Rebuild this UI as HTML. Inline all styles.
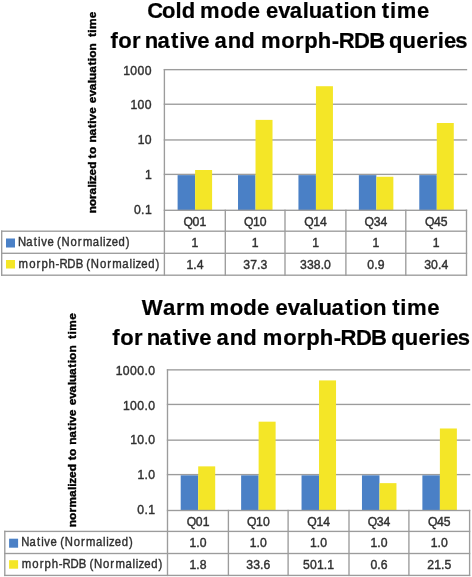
<!DOCTYPE html>
<html><head><meta charset="utf-8"><title>Cold and warm mode evaluation time</title>
<style>
html,body{margin:0;padding:0;background:#fff;}
body{width:472px;height:577px;overflow:hidden;}
svg{display:block;font-family:"Liberation Sans",Arial,sans-serif;}
</style></head><body>
<svg width="472" height="577" viewBox="0 0 472 577">
<rect width="472" height="577" fill="#fff"/>
<text transform="translate(0,17.50) scale(0.9997,1)" x="147.19 162.02 175.67 181.84 196.05 200.10 220.30 233.87 247.77 260.07 266.14 278.44 289.96 302.89 308.96 321.94 335.45 343.54 349.70 363.23 374.73 381.93 390.10 396.86 417.09" y="0" font-size="22" font-weight="bold" fill="#000" stroke="#000" stroke-width="0.2">Cold mode evaluation time</text>
<text transform="translate(0,48.00) scale(1.0020,1)" x="110.16 118.10 131.83 140.84 144.36 157.22 170.73 178.82 184.78 196.97 208.87 214.20 227.30 240.72 255.62 260.37 280.65 294.45 303.58 317.23 331.05 337.97 353.29 368.45 382.62 388.28 401.74 415.38 427.95 436.77 443.05 454.46" y="0" font-size="22" font-weight="bold" fill="#000" stroke="#000" stroke-width="0.2">for native and morph-RDB queries</text>
<text transform="translate(96.00,0) rotate(-90) scale(1.0180,1)" x="-209.60 -202.54 -195.39 -191.02 -184.20 -180.97 -178.02 -172.40 -165.87 -159.78 -155.81 -151.31 -143.76 -140.09 -133.16 -125.91 -121.56 -118.31 -111.74 -104.92 -101.37 -94.81 -88.66 -81.77 -78.51 -71.58 -64.38 -60.06 -56.75 -49.53 -41.84 -36.43 -32.14 -28.61 -17.98" y="0" font-size="11.6" font-weight="bold" fill="#000" stroke="#000" stroke-width="0.4">noralized to native evaluation time</text>
<rect x="163.72" y="68.98" width="303.45" height="1.35" fill="#9c9c9c"/>
<rect x="163.72" y="103.56" width="303.45" height="1.35" fill="#9c9c9c"/>
<rect x="163.72" y="139.28" width="303.45" height="1.35" fill="#9c9c9c"/>
<rect x="163.72" y="173.72" width="303.45" height="1.35" fill="#9c9c9c"/>
<text x="123.17 130.29 137.54 144.78" y="74.55" font-size="12.2" fill="#303030" stroke="#303030" stroke-width="0.4">1000</text>
<text x="130.42 137.54 144.78" y="109.40" font-size="12.2" fill="#303030" stroke="#303030" stroke-width="0.4">100</text>
<text x="137.67 144.78" y="144.25" font-size="12.2" fill="#303030" stroke="#303030" stroke-width="0.4">10</text>
<text x="144.91" y="179.10" font-size="12.2" fill="#303030" stroke="#303030" stroke-width="0.4">1</text>
<text x="133.93 141.05 144.91" y="213.95" font-size="12.2" fill="#303030" stroke="#303030" stroke-width="0.4">0.1</text>
<rect x="177.60" y="175.14" width="17.50" height="35.16" fill="#4a80c6"/>
<rect x="195.10" y="170.00" width="17.00" height="40.30" fill="#f4e627"/>
<rect x="238.02" y="175.14" width="17.50" height="35.16" fill="#4a80c6"/>
<rect x="255.52" y="119.88" width="17.00" height="90.42" fill="#f4e627"/>
<rect x="298.44" y="175.14" width="17.50" height="35.16" fill="#4a80c6"/>
<rect x="315.94" y="86.22" width="17.00" height="124.08" fill="#f4e627"/>
<rect x="358.86" y="175.14" width="17.50" height="35.16" fill="#4a80c6"/>
<rect x="376.36" y="176.75" width="17.00" height="33.55" fill="#f4e627"/>
<rect x="419.28" y="175.14" width="17.50" height="35.16" fill="#4a80c6"/>
<rect x="436.78" y="123.00" width="17.00" height="87.30" fill="#f4e627"/>
<rect x="163.72" y="68.98" width="1.35" height="206.89" fill="#9c9c9c"/>
<rect x="163.72" y="209.62" width="303.45" height="1.35" fill="#9c9c9c"/>
<rect x="1.02" y="230.52" width="466.15" height="1.35" fill="#9c9c9c"/>
<rect x="1.02" y="252.62" width="466.15" height="1.35" fill="#9c9c9c"/>
<rect x="1.02" y="274.52" width="466.15" height="1.35" fill="#9c9c9c"/>
<rect x="1.02" y="230.52" width="1.35" height="45.35" fill="#9c9c9c"/>
<rect x="224.62" y="209.62" width="1.35" height="66.25" fill="#9c9c9c"/>
<rect x="284.32" y="209.62" width="1.35" height="66.25" fill="#9c9c9c"/>
<rect x="345.22" y="209.62" width="1.35" height="66.25" fill="#9c9c9c"/>
<rect x="405.12" y="209.62" width="1.35" height="66.25" fill="#9c9c9c"/>
<rect x="465.82" y="209.62" width="1.35" height="66.25" fill="#9c9c9c"/>
<rect x="6.00" y="238.50" width="9.00" height="9.00" fill="#4a80c6"/>
<rect x="6.00" y="260.00" width="9.00" height="8.50" fill="#f4e627"/>
<text transform="translate(0,246.00) scale(0.9245,1)" x="19.54 28.50 36.60 41.18 44.55 51.27 57.70 61.76 66.60 76.32 84.22 89.72 100.43 108.14 111.55 114.56 120.80 128.27 136.07" y="0" font-size="12.2" fill="#303030" stroke="#303030" stroke-width="0.4">Native (Normalized)</text>
<text transform="translate(0,268.00) scale(0.9306,1)" x="19.94 31.42 39.31 44.53 52.26 59.77 63.90 72.35 81.27 88.63 92.76 97.60 107.33 115.23 120.73 131.44 139.15 142.56 145.56 151.81 159.28 167.08" y="0" font-size="12.2" fill="#303030" stroke="#303030" stroke-width="0.4">morph-RDB (Normalized)</text>
<text x="183.60 192.59 199.59" y="226.00" font-size="12.2" fill="#303030" stroke="#303030" stroke-width="0.4">Q01</text>
<text x="191.57" y="247.00" font-size="12.2" fill="#303030" stroke="#303030" stroke-width="0.4">1</text>
<text x="186.41 193.15 196.66" y="268.50" font-size="12.2" fill="#303030" stroke="#303030" stroke-width="0.4">1.4</text>
<text x="243.90 253.00 259.78" y="226.00" font-size="12.2" fill="#303030" stroke="#303030" stroke-width="0.4">Q10</text>
<text x="251.87" y="247.00" font-size="12.2" fill="#303030" stroke="#303030" stroke-width="0.4">1</text>
<text x="243.24 250.14 256.90 260.46" y="268.50" font-size="12.2" fill="#303030" stroke="#303030" stroke-width="0.4">37.3</text>
<text x="304.20 313.30 320.12" y="226.00" font-size="12.2" fill="#303030" stroke="#303030" stroke-width="0.4">Q14</text>
<text x="312.17" y="247.00" font-size="12.2" fill="#303030" stroke="#303030" stroke-width="0.4">1</text>
<text x="300.09 306.99 313.79 320.64 324.11" y="268.50" font-size="12.2" fill="#303030" stroke="#303030" stroke-width="0.4">338.0</text>
<text x="364.60 373.68 380.52" y="226.00" font-size="12.2" fill="#303030" stroke="#303030" stroke-width="0.4">Q34</text>
<text x="372.57" y="247.00" font-size="12.2" fill="#303030" stroke="#303030" stroke-width="0.4">1</text>
<text x="367.29 374.15 377.83" y="268.50" font-size="12.2" fill="#303030" stroke="#303030" stroke-width="0.4">0.9</text>
<text x="424.90 433.93 440.70" y="226.00" font-size="12.2" fill="#303030" stroke="#303030" stroke-width="0.4">Q45</text>
<text x="432.87" y="247.00" font-size="12.2" fill="#303030" stroke="#303030" stroke-width="0.4">1</text>
<text x="424.24 431.04 437.90 441.41" y="268.50" font-size="12.2" fill="#303030" stroke="#303030" stroke-width="0.4">30.4</text>
<text transform="translate(0,314.50) scale(1.0053,1)" x="141.06 162.18 175.12 184.33 203.16 208.45 228.47 241.90 255.65 267.95 274.03 286.32 297.84 310.78 316.84 329.82 343.33 351.42 357.59 371.11 382.74 390.06 398.19 404.89 425.05" y="0" font-size="22" font-weight="bold" fill="#000" stroke="#000" stroke-width="0.2">Warm mode evaluation time</text>
<text transform="translate(0,345.00) scale(1.0013,1)" x="112.15 120.13 133.91 143.01 146.62 159.41 172.87 180.91 186.82 198.94 210.90 216.29 229.50 243.03 257.86 262.54 282.81 296.61 305.74 319.40 333.21 340.13 355.45 370.61 384.97 390.84 404.31 417.96 430.54 439.36 445.65 457.06" y="0" font-size="22" font-weight="bold" fill="#000" stroke="#000" stroke-width="0.2">for native and morph-RDB queries</text>
<text transform="translate(76.40,0) rotate(-90) scale(1.0256,1)" x="-514.04 -506.97 -499.82 -494.93 -484.70 -477.88 -474.65 -471.70 -466.08 -459.55 -453.07 -448.69 -444.60 -437.20 -433.69 -426.89 -419.74 -415.47 -412.31 -405.87 -398.90 -395.22 -388.70 -382.59 -375.75 -372.52 -365.64 -358.49 -354.20 -350.92 -343.75 -336.07 -330.66 -326.26 -322.54 -311.67" y="0" font-size="11.6" font-weight="bold" fill="#000" stroke="#000" stroke-width="0.4">normalized to native evaluation time</text>
<rect x="166.82" y="369.19" width="303.45" height="1.35" fill="#9c9c9c"/>
<rect x="166.82" y="403.76" width="303.45" height="1.35" fill="#9c9c9c"/>
<rect x="166.82" y="439.48" width="303.45" height="1.35" fill="#9c9c9c"/>
<rect x="166.82" y="473.93" width="303.45" height="1.35" fill="#9c9c9c"/>
<text x="115.71 122.83 130.08 137.33 144.45 148.18" y="374.75" font-size="12.2" fill="#303030" stroke="#303030" stroke-width="0.4">1000.0</text>
<text x="122.96 130.08 137.33 144.45 148.18" y="409.60" font-size="12.2" fill="#303030" stroke="#303030" stroke-width="0.4">100.0</text>
<text x="130.21 137.33 144.45 148.18" y="444.45" font-size="12.2" fill="#303030" stroke="#303030" stroke-width="0.4">10.0</text>
<text x="137.46 144.45 148.18" y="479.30" font-size="12.2" fill="#303030" stroke="#303030" stroke-width="0.4">1.0</text>
<text x="137.33 144.45 148.31" y="514.15" font-size="12.2" fill="#303030" stroke="#303030" stroke-width="0.4">0.1</text>
<rect x="180.70" y="475.34" width="17.50" height="35.16" fill="#4a80c6"/>
<rect x="198.20" y="466.36" width="17.00" height="44.14" fill="#f4e627"/>
<rect x="241.12" y="475.34" width="17.50" height="35.16" fill="#4a80c6"/>
<rect x="258.62" y="421.67" width="17.00" height="88.83" fill="#f4e627"/>
<rect x="301.54" y="475.34" width="17.50" height="35.16" fill="#4a80c6"/>
<rect x="319.04" y="380.41" width="17.00" height="130.09" fill="#f4e627"/>
<rect x="361.96" y="475.34" width="17.50" height="35.16" fill="#4a80c6"/>
<rect x="379.46" y="483.14" width="17.00" height="27.36" fill="#f4e627"/>
<rect x="422.38" y="475.34" width="17.50" height="35.16" fill="#4a80c6"/>
<rect x="439.88" y="428.49" width="17.00" height="82.01" fill="#f4e627"/>
<rect x="166.82" y="369.19" width="1.35" height="206.89" fill="#9c9c9c"/>
<rect x="166.82" y="509.82" width="303.45" height="1.35" fill="#9c9c9c"/>
<rect x="4.12" y="530.73" width="466.15" height="1.35" fill="#9c9c9c"/>
<rect x="4.12" y="552.83" width="466.15" height="1.35" fill="#9c9c9c"/>
<rect x="4.12" y="574.73" width="466.15" height="1.35" fill="#9c9c9c"/>
<rect x="4.12" y="530.73" width="1.35" height="45.35" fill="#9c9c9c"/>
<rect x="227.72" y="509.82" width="1.35" height="66.25" fill="#9c9c9c"/>
<rect x="287.43" y="509.82" width="1.35" height="66.25" fill="#9c9c9c"/>
<rect x="348.32" y="509.82" width="1.35" height="66.25" fill="#9c9c9c"/>
<rect x="408.23" y="509.82" width="1.35" height="66.25" fill="#9c9c9c"/>
<rect x="468.93" y="509.82" width="1.35" height="66.25" fill="#9c9c9c"/>
<rect x="9.10" y="538.70" width="9.00" height="9.00" fill="#4a80c6"/>
<rect x="9.10" y="560.20" width="9.00" height="8.50" fill="#f4e627"/>
<text transform="translate(0,546.20) scale(0.9245,1)" x="22.89 31.85 39.95 44.53 47.90 54.63 61.05 65.11 69.95 79.68 87.57 93.07 103.79 111.50 114.90 117.91 124.15 131.62 139.43" y="0" font-size="12.2" fill="#303030" stroke="#303030" stroke-width="0.4">Native (Normalized)</text>
<text transform="translate(0,568.20) scale(0.9306,1)" x="23.27 34.75 42.65 47.86 55.59 63.10 67.23 75.68 84.60 91.96 96.10 100.94 110.66 118.56 124.06 134.77 142.48 145.89 148.90 155.14 162.61 170.41" y="0" font-size="12.2" fill="#303030" stroke="#303030" stroke-width="0.4">morph-RDB (Normalized)</text>
<text x="186.70 195.69 202.69" y="526.20" font-size="12.2" fill="#303030" stroke="#303030" stroke-width="0.4">Q01</text>
<text x="189.51 196.25 199.72" y="547.20" font-size="12.2" fill="#303030" stroke="#303030" stroke-width="0.4">1.0</text>
<text x="189.51 196.25 199.72" y="568.70" font-size="12.2" fill="#303030" stroke="#303030" stroke-width="0.4">1.8</text>
<text x="247.00 256.10 262.88" y="526.20" font-size="12.2" fill="#303030" stroke="#303030" stroke-width="0.4">Q10</text>
<text x="249.81 256.55 260.02" y="547.20" font-size="12.2" fill="#303030" stroke="#303030" stroke-width="0.4">1.0</text>
<text x="246.34 253.23 260.00 263.50" y="568.70" font-size="12.2" fill="#303030" stroke="#303030" stroke-width="0.4">33.6</text>
<text x="307.30 316.40 323.22" y="526.20" font-size="12.2" fill="#303030" stroke="#303030" stroke-width="0.4">Q14</text>
<text x="310.11 316.85 320.32" y="547.20" font-size="12.2" fill="#303030" stroke="#303030" stroke-width="0.4">1.0</text>
<text x="303.02 309.99 317.00 323.74 327.33" y="568.70" font-size="12.2" fill="#303030" stroke="#303030" stroke-width="0.4">501.1</text>
<text x="367.70 376.78 383.62" y="526.20" font-size="12.2" fill="#303030" stroke="#303030" stroke-width="0.4">Q34</text>
<text x="370.51 377.25 380.72" y="547.20" font-size="12.2" fill="#303030" stroke="#303030" stroke-width="0.4">1.0</text>
<text x="370.39 377.25 380.75" y="568.70" font-size="12.2" fill="#303030" stroke="#303030" stroke-width="0.4">0.6</text>
<text x="428.00 437.03 443.80" y="526.20" font-size="12.2" fill="#303030" stroke="#303030" stroke-width="0.4">Q45</text>
<text x="430.81 437.55 441.02" y="547.20" font-size="12.2" fill="#303030" stroke="#303030" stroke-width="0.4">1.0</text>
<text x="427.26 434.26 441.00 444.39" y="568.70" font-size="12.2" fill="#303030" stroke="#303030" stroke-width="0.4">21.5</text>
</svg>
</body></html>
